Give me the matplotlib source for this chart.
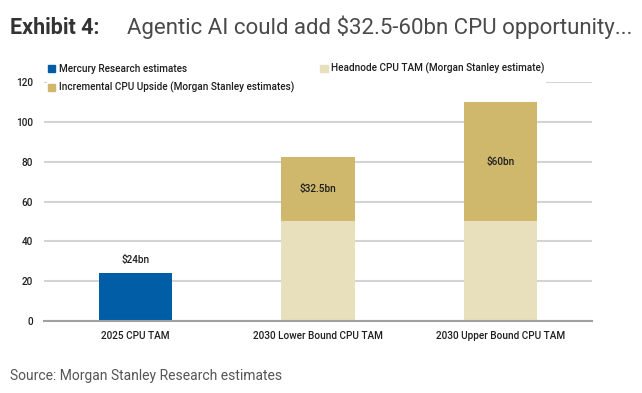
import matplotlib
matplotlib.use("Agg")
import matplotlib.pyplot as plt
from matplotlib.patches import Patch

plt.rcParams['font.family'] = ['Roboto', 'DejaVu Sans']

categories = ['2025 CPU TAM', '2030 Lower Bound CPU TAM', '2030 Upper Bound CPU TAM']
mercury = [24, 0, 0]
headnode = [0, 50, 50]
incremental = [0, 32.5, 60]
bar_labels = ['$24bn', '$32.5bn', '$60bn']
yticks = [0, 20, 40, 60, 80, 100, 120]

c_blue = '#005DA6'
c_beige = '#E8DFBC'
c_gold = '#CFB76B'
txt = '#1E1E1E'
fs = 7.2

fig = plt.figure(figsize=(6.42, 3.93), dpi=100)
ax = fig.add_axes([44 / 642, 1 - 321 / 393, (592 - 44) / 642, (321 - 82) / 393])

x = list(range(len(categories)))
w = 0.4
ax.bar(x, mercury, w, color=c_blue, zorder=3)
ax.bar(x, headnode, w, color=c_beige, zorder=3)
ax.bar(x, incremental, w, bottom=headnode, color=c_gold, zorder=3)

# data labels
ax.text(x[0], mercury[0] + 4, bar_labels[0], ha='center', va='bottom',
        fontsize=fs, color=txt, fontweight='medium')
for i in (1, 2):
    ax.text(x[i], headnode[i] + incremental[i] / 2, bar_labels[i],
            ha='center', va='center', fontsize=fs, color=txt, fontweight='medium')

ax.set_xlim(-0.5, 2.5)
ax.set_ylim(0, 120)
ax.set_yticks(yticks)
ax.set_xticks(x)
ax.set_xticklabels(categories)
ax.tick_params(axis='both', length=0, labelsize=fs, colors=txt)
ax.tick_params(axis='y', pad=8)
ax.tick_params(axis='x', pad=7)
for t in ax.get_xticklabels() + ax.get_yticklabels():
    t.set_fontweight('medium')
ax.grid(axis='y', color='#D4D4D4', linewidth=1.5, zorder=0)
for s in ('top', 'right', 'left'):
    ax.spines[s].set_visible(False)
ax.spines['bottom'].set_color('#A0A0A0')
ax.spines['bottom'].set_linewidth(1.5)
ax.spines['bottom'].set_zorder(4)

handles = [Patch(color=c_blue, label='Mercury Research estimates'),
           Patch(color=c_gold, label='Incremental CPU Upside (Morgan Stanley estimates)'),
           Patch(color=c_beige, label='Headnode CPU TAM (Morgan Stanley estimate)')]
leg = fig.legend(handles=handles, ncol=2, loc='upper left',
                 bbox_to_anchor=(47 / 642, 1 - 62 / 393),
                 frameon=True, facecolor='white', edgecolor='none', framealpha=1,
                 fontsize=fs, handlelength=0.75, handleheight=0.75, handletextpad=0.35,
                 columnspacing=2.6, labelspacing=0.8, borderpad=0.1,
                 borderaxespad=0)
for t in leg.get_texts():
    t.set_color(txt)
    t.set_fontweight('medium')

fig.text(10 / 642, 1 - 34 / 393, 'Exhibit 4:', fontsize=15.5, fontweight='bold',
         color='#333333', family=['Roboto', 'DejaVu Sans'], va='baseline')
fig.text(127 / 642, 1 - 34 / 393, 'Agentic AI could add $32.5-60bn CPU opportunity...',
         fontsize=16, color='#4A4A4A', family=['Roboto', 'DejaVu Sans'],
         va='baseline')
fig.text(10 / 642, 1 - 380 / 393, 'Source: Morgan Stanley Research estimates',
         fontsize=10, color='#555555', family=['Roboto', 'DejaVu Sans'],
         va='baseline')

fig.savefig('out.png', dpi=100)
